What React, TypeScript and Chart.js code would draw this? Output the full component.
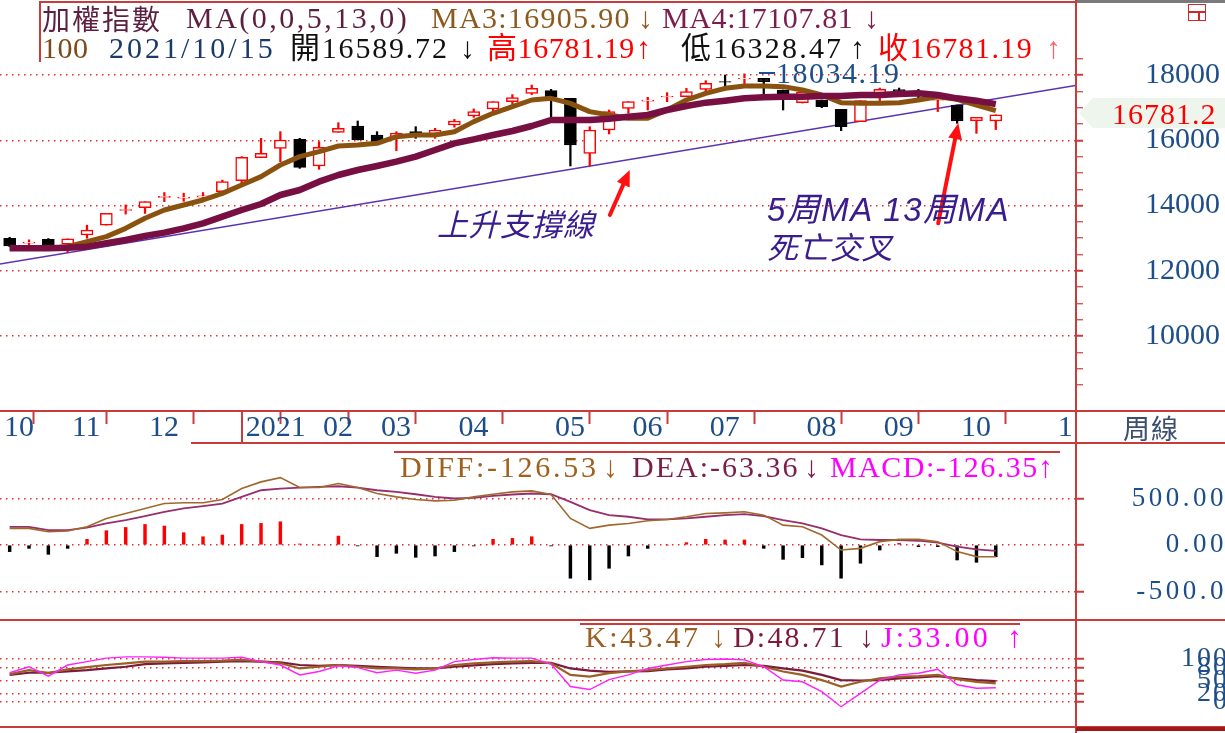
import React, { useEffect, useRef } from 'react';
import { Chart, registerables } from 'chart.js';

Chart.register(...registerables);

// ---------------- data ----------------
const weekDates = ['2020/10/16','2020/10/23','2020/10/30','2020/11/06','2020/11/13','2020/11/20','2020/11/27','2020/12/04','2020/12/11','2020/12/18','2020/12/25','2020/12/31','2021/01/08','2021/01/15','2021/01/22','2021/01/29','2021/02/05','2021/02/19','2021/02/26','2021/03/05','2021/03/12','2021/03/19','2021/03/26','2021/04/01','2021/04/09','2021/04/16','2021/04/23','2021/04/30','2021/05/07','2021/05/14','2021/05/21','2021/05/28','2021/06/04','2021/06/11','2021/06/18','2021/06/25','2021/07/02','2021/07/09','2021/07/16','2021/07/23','2021/07/30','2021/08/06','2021/08/13','2021/08/20','2021/08/27','2021/09/03','2021/09/10','2021/09/17','2021/09/24','2021/10/01','2021/10/08','2021/10/15'];

const openP = [12997,12850,12966,12820,13100,13400,13850,13936,14250,14230,14260,14427,14760,15468,15754,16030,15213,16244,16438,16162,16100,16264,16193,16468,16744,16960,17183,17438,17520,17285,15600,16315,16979,17200,17330,17336,17561,17800,17880,17897,17540,17150,17234,16948,16570,17300,17550,17480,17230,17081,16600,16589.72];
const highP = [13030,12950,12990,12980,13400,13760,14020,14120,14400,14380,14400,14780,15500,16060,16264,16060,15958,16540,16591,16264,16264,16417,16366,16640,16960,17183,17400,17693,17560,17285,16417,16928,17183,17316,17459,17591,17826,17999,18034.19,17897,17540,17480,17234,16948,17214,17600,17600,17560,17300,17081,16703,16781.19];
const lowP = [12740,12740,12620,12560,13000,13400,13740,13760,14120,14130,14150,14427,14700,15468,15345,15140,15111,16244,16009,15900,15682,16060,16060,16400,16700,16900,17100,17400,16700,15213,15213,16193,16826,16928,17183,17336,17459,17540,17693,17387,16928,17140,17000,16295,16570,17200,17440,17260,16880,16520,16213,16328.47];
const closeP = [12762,12880,12762,12980,13250,13760,13880,14120,14280,14260,14300,14733,15478,15600,16009,15172,15784,16366,16009,15958,16220,16162,16315,16591,16877,17183,17306,17591,17336,15856,16315,16877,17183,17230,17350,17489,17744,17780,17900,17795,17336,17480,17030,16417,17214,17560,17520,17400,17260,16591,16703,16781.19];

const ma5 = [12691,12691,12691,12742,12895,13048,13303,13610,13865,14018,14171,14375,14631,14886,15243,15499,15652,15825,15856,15907,16111,16162,16162,16264,16571,16826,17030,17234,17285,17132,16877,16775,16673,16673,16928,17234,17438,17592,17663,17663,17643,17540,17387,17153,17132,17132,17153,17234,17336,17255,17081,16905.9];
const ma13 = [12691,12691,12691,12711,12742,12844,12946,13069,13171,13303,13457,13661,13865,14049,14324,14477,14733,14937,15090,15213,15345,15499,15703,15907,16029,16162,16285,16438,16621,16621,16621,16660,16724,16775,16928,17050,17153,17214,17285,17316,17336,17336,17357,17357,17387,17387,17418,17438,17387,17285,17214,17107.81];

const trendX = [-0.5, 55.2];
const trendY = [12211, 17690];

const arrowTailX = [31.04, 48.02];
const arrowTailY = [13712, 13458];
const arrowTipX = [32.07, 49.06];
const arrowTipY = [15090, 16521];

const monthTickPos = [-0.5, 3, 7, 12, 16, 19, 23, 28, 32, 36, 41, 45, 49, 54];
const monthTickLabels = ['10', '11', '12', '2021', '02', '03', '04', '05', '06', '07', '08', '09', '10', '1'];
const yearTickPos = [12];

const priceTickValues = [8500,9000,9500,10000,10500,11000,11500,12000,12500,13000,13500,14000,14500,15000,15500,16000,16500,17000,17500,18000,18500];
const priceLabelValues = [10000, 12000, 14000, 16000, 18000];

const diffVals = [179,179,143,150,196,286,339,393,446,454,454,489,607,679,725,618,618,661,618,554,518,489,475,482,518,546,571,582,543,286,179,214,232,261,275,304,339,346,357,321,214,196,107,-54,-36,36,61,61,36,-71,-125,-126.53];
const deaVals = [196,196,161,161,186,232,268,311,357,393,418,446,518,589,607,618,625,632,618,589,571,546,518,500,507,528,543,554,546,464,375,321,304,275,275,286,304,321,332,311,268,232,179,107,61,54,54,46,25,-18,-46,-63.36];
const macdVals = [-71,-36,-100,-36,61,154,189,221,204,132,89,107,221,232,250,11,0,96,-10,-125,-89,-132,-118,-71,-10,61,71,89,-10,-357,-375,-250,-118,-36,0,25,61,54,54,-36,-154,-136,-214,-357,-196,-54,18,-18,-18,-161,-186,-126.35];
const macdTickValues = [-500, 0, 500];
const macdTickLabels = ['-500.0', '0.00', '500.00'];

const kVals = [65,74,67,76,81,86,90,94,94,95,95,96,98,94,90,78,82,86,82,78,78,76,78,86,90,92,94,95,90,63,59,67,71,74,78,82,86,88,91,82,71,63,51,36,47,55,59,60,63,53,47,43.47];
const dVals = [63,68,68,71,74,78,82,88,90,91,92,94,95,94,92,86,84,86,84,82,80,78,78,82,85,88,90,91,91,78,73,70,71,72,76,78,82,84,86,84,78,73,63,51,50,51,55,57,60,55,51,48.71];
const jVals = [68,82,60,86,94,102,105,105,104,102,102,102,104,94,86,63,71,84,80,68,74,67,74,94,99,103,102,102,88,36,29,52,63,78,86,94,99,100,98,82,51,47,24,-11,20,51,63,67,76,40,32,33];
const kdjTickValues = [0, 20, 50, 80, 100];

// ---------------- styles ----------------
const RED_LINE = '#c83c3c';
const GRID_RED = '#dd3333';
const AXIS_BLUE = '#1d4e89';
const MA5_COLOR = '#8a520f';
const MA13_COLOR = '#780f42';
const DIFF_COLOR = '#a0682c';
const DEA_COLOR = '#962f6c';
const K_COLOR = '#9a5f24';
const D_COLOR = '#7a1a3c';
const J_COLOR = '#ff22ff';
const SERIF = "'Liberation Serif', 'Noto Sans CJK TC', serif";
const CJK = "'Noto Sans CJK TC', sans-serif";
const XMIN = -0.5;
const XMAX = 55.2;

Chart.defaults.font.family = SERIF;

const idx = weekDates.map((_, i) => i);
const pts = (arr: number[]) => idx.map((i) => ({ x: i, y: arr[i] }));

const hiddenX = {
  type: 'linear',
  min: XMIN,
  max: XMAX,
  display: false,
  offset: false,
  grid: { display: false },
};

const spacingPlugin = (sp: string) => ({
  id: 'spacing',
  beforeUpdate(chart: any) { (chart.ctx as any).letterSpacing = sp; },
  beforeDraw(chart: any) { (chart.ctx as any).letterSpacing = sp; },
});

const arrowPlugin = {
  id: 'arrows',
  afterDatasetsDraw(chart: any) {
    const { ctx, scales } = chart;
    const xs = scales.x;
    const ys = scales.y;
    ctx.save();
    ctx.strokeStyle = '#ff1010';
    ctx.fillStyle = '#ff1010';
    ctx.lineWidth = 4;
    ctx.lineCap = 'round';
    for (let k = 0; k < arrowTailX.length; k++) {
      const x1 = xs.getPixelForValue(arrowTailX[k]);
      const y1 = ys.getPixelForValue(arrowTailY[k]);
      const x2 = xs.getPixelForValue(arrowTipX[k]);
      const y2 = ys.getPixelForValue(arrowTipY[k]);
      const ang = Math.atan2(y2 - y1, x2 - x1);
      const hl = 16;
      const hw = 7;
      const bx = x2 - hl * Math.cos(ang);
      const by = y2 - hl * Math.sin(ang);
      ctx.beginPath();
      ctx.moveTo(x1, y1);
      ctx.lineTo(bx, by);
      ctx.stroke();
      ctx.beginPath();
      ctx.moveTo(x2, y2);
      ctx.lineTo(bx + hw * Math.sin(ang), by - hw * Math.cos(ang));
      ctx.lineTo(bx - hw * Math.sin(ang), by + hw * Math.cos(ang));
      ctx.closePath();
      ctx.fill();
    }
    ctx.restore();
  },
  afterDraw(chart: any) {
    const xs = chart.scales.x;
    const { ctx } = chart;
    ctx.save();
    ctx.strokeStyle = RED_LINE;
    ctx.lineWidth = 2;
    yearTickPos.forEach((v) => {
      const px = Math.round(xs.getPixelForValue(v));
      ctx.beginPath();
      ctx.moveTo(px, xs.top);
      ctx.lineTo(px, xs.bottom);
      ctx.stroke();
    });
    ctx.restore();
  },
};

function buildMain(): any {
  const up = idx.map((i) => closeP[i] >= openP[i]);
  return {
    type: 'bar',
    data: {
      datasets: [
        { type: 'line', label: 'MA13', data: pts(ma13), borderColor: MA13_COLOR, borderWidth: 6.5, pointRadius: 0, tension: 0, order: 0, borderJoinStyle: 'round' },
        { type: 'line', label: 'MA5', data: pts(ma5), borderColor: MA5_COLOR, borderWidth: 5, pointRadius: 0, tension: 0, order: 1, borderJoinStyle: 'round' },
        {
          type: 'bar', label: 'body',
          data: idx.map((i) => ({ x: i, y: [openP[i], closeP[i]] })),
          backgroundColor: idx.map((i) => (up[i] ? '#ffffff' : '#000000')),
          borderColor: idx.map((i) => (up[i] ? '#ff0000' : '#000000')),
          borderWidth: 1.5, borderSkipped: false, barThickness: 12, grouped: false, order: 2,
        },
        {
          type: 'bar', label: 'wick',
          data: idx.map((i) => ({ x: i, y: [lowP[i], highP[i]] })),
          backgroundColor: idx.map((i) => (up[i] ? '#ff0000' : '#000000')),
          borderWidth: 0, barThickness: 1.6, grouped: false, order: 3,
        },
        { type: 'line', label: 'trend', data: trendX.map((x, k) => ({ x, y: trendY[k] })), borderColor: '#5a34b4', borderWidth: 1.5, pointRadius: 0, order: 4 },
      ],
    },
    options: {
      responsive: false,
      animation: false,
      events: [],
      layout: { padding: 0 },
      plugins: { legend: { display: false }, tooltip: { enabled: false } },
      scales: {
        x: {
          type: 'linear', min: XMIN, max: XMAX, position: 'bottom', offset: false,
          afterBuildTicks: (s: any) => { s.ticks = monthTickPos.map((v) => ({ value: v })); },
          afterFit: (s: any) => { s.height = 32; s.paddingLeft = 0; s.paddingRight = 0; },
          ticks: {
            autoSkip: false, maxRotation: 0, minRotation: 0, align: 'start', labelOffset: 4, padding: -14,
            color: AXIS_BLUE, font: { size: 30, family: SERIF },
            callback: (_v: any, i: number) => monthTickLabels[i],
          },
          grid: { display: true, drawOnChartArea: false, drawTicks: true, tickLength: 13, tickColor: RED_LINE, tickWidth: 2, tickBorderDash: [] },
          border: { display: false },
        },
        y: {
          type: 'linear', position: 'right', min: 7708, max: 19072,
          afterBuildTicks: (s: any) => { s.ticks = priceTickValues.map((v) => ({ value: v })); },
          afterFit: (s: any) => { s.width = 148; s.paddingTop = 0; s.paddingBottom = 0; },
          ticks: {
            autoSkip: false, crossAlign: 'near', padding: 62, color: AXIS_BLUE, font: { size: 30, family: SERIF },
            callback: (v: any) => (priceLabelValues.includes(v) ? String(v) : ''),
          },
          grid: {
            color: (c: any) => (c.tick && priceLabelValues.includes(c.tick.value) ? GRID_RED : 'rgba(0,0,0,0)'),
            lineWidth: 1.5, drawTicks: true, tickLength: 6, tickColor: RED_LINE,
            tickWidth: (c: any) => (c.tick && c.tick.value % 2000 === 0 ? 2 : 1.2), tickBorderDash: [],
          },
          border: { display: false, dash: [1.5, 4.5] },
        },
      },
    },
    plugins: [arrowPlugin],
  };
}

function buildMacd(): any {
  return {
    type: 'bar',
    data: {
      datasets: [
        { type: 'line', label: 'DIFF', data: pts(diffVals), borderColor: DIFF_COLOR, borderWidth: 1.6, pointRadius: 0, tension: 0, order: 0 },
        { type: 'line', label: 'DEA', data: pts(deaVals), borderColor: DEA_COLOR, borderWidth: 1.8, pointRadius: 0, tension: 0, order: 1 },
        {
          type: 'bar', label: 'MACD', data: pts(macdVals),
          backgroundColor: idx.map((i) => (macdVals[i] >= 0 ? '#ff0000' : '#000000')),
          barThickness: 2.8, grouped: false, order: 2,
        },
      ],
    },
    options: {
      responsive: false, animation: false, events: [], layout: { padding: 0 },
      plugins: { legend: { display: false }, tooltip: { enabled: false } },
      scales: {
        x: hiddenX,
        y: {
          type: 'linear', position: 'right', min: -699, max: 968,
          afterBuildTicks: (s: any) => { s.ticks = macdTickValues.map((v) => ({ value: v })); },
          afterFit: (s: any) => { s.width = 150; s.paddingTop = 0; s.paddingBottom = 0; },
          ticks: {
            autoSkip: false, crossAlign: 'far', padding: 4, color: AXIS_BLUE, font: { size: 27, family: SERIF },
            callback: (_v: any, i: number) => macdTickLabels[i],
          },
          grid: { color: GRID_RED, lineWidth: 1.5, drawTicks: true, tickLength: 7, tickColor: RED_LINE, tickWidth: 2, tickBorderDash: [] },
          border: { display: false, dash: [1.5, 4.5] },
        },
      },
    },
    plugins: [spacingPlugin('3.5px')],
  };
}

function buildKdj(): any {
  return {
    type: 'line',
    data: {
      datasets: [
        { label: 'J', data: pts(jVals), borderColor: J_COLOR, borderWidth: 1.4, pointRadius: 0, tension: 0, order: 0 },
        { label: 'K', data: pts(kVals), borderColor: K_COLOR, borderWidth: 2.2, pointRadius: 0, tension: 0, order: 1 },
        { label: 'D', data: pts(dVals), borderColor: D_COLOR, borderWidth: 2.2, pointRadius: 0, tension: 0, order: 2 },
      ],
    },
    options: {
      responsive: false, animation: false, events: [], layout: { padding: 0 },
      plugins: { legend: { display: false }, tooltip: { enabled: false } },
      scales: {
        x: hiddenX,
        y: {
          type: 'linear', position: 'right', min: -53.5, max: 172.1,
          afterBuildTicks: (s: any) => { s.ticks = kdjTickValues.map((v) => ({ value: v })); },
          afterFit: (s: any) => { s.width = 152; s.paddingTop = 0; s.paddingBottom = 0; },
          ticks: {
            autoSkip: false, crossAlign: 'far', padding: 4, color: AXIS_BLUE, font: { size: 28, family: SERIF },
            callback: (v: any) => String(v),
          },
          grid: { color: GRID_RED, lineWidth: 1.5, drawTicks: true, tickLength: 7, tickColor: RED_LINE, tickWidth: 2, tickBorderDash: [] },
          border: { display: false, dash: [1.5, 4.5] },
        },
      },
    },
    plugins: [spacingPlugin('2px')],
  };
}

function ChartBox({ left, top, width, height, build }: { left: number; top: number; width: number; height: number; build: () => any }) {
  const ref = useRef<HTMLCanvasElement>(null);
  useEffect(() => {
    const chart = new Chart(ref.current as HTMLCanvasElement, build());
    return () => chart.destroy();
  }, []);
  return <canvas ref={ref} width={width} height={height} style={{ position: 'absolute', left, top, width, height }} />;
}

function T({ x, y, c, s = 30, ls = 1, f = SERIF, italic = false, children }: any) {
  return (
    <div style={{ position: 'absolute', left: x, top: y, transform: 'translateY(-50%)', color: c, fontSize: s, fontFamily: f, letterSpacing: ls, lineHeight: 1, whiteSpace: 'nowrap', fontStyle: italic ? 'italic' : 'normal', zIndex: 5 }}>
      {children}
    </div>
  );
}

function L({ x, y, w, h, c = RED_LINE }: any) {
  return <div style={{ position: 'absolute', left: x, top: y, width: w, height: h, background: c, zIndex: 4 }} />;
}

export default function App() {
  useEffect(() => {
    document.body.style.margin = '0';
  }, []);
  return (
    <div style={{ position: 'fixed', left: 0, top: 0, width: 1225, height: 733, overflow: 'hidden', background: '#ffffff' }}>
      <ChartBox left={0} top={40} width={1225} height={403} build={buildMain} />
      <ChartBox left={0} top={455} width={1227} height={155} build={buildMacd} />
      <ChartBox left={0} top={628} width={1229} height={97} build={buildKdj} />

      {/* frame lines */}
      <L x={39} y={1} w={1037} h={2} />
      <L x={1076} y={0} w={149} h={3} c="#7a7a7a" />
      <L x={39} y={1} w={2} h={61} />
      <L x={1075} y={0} w={2} h={733} />
      <L x={0} y={410} w={1225} h={2} />
      <L x={191} y={442} w={1034} h={2} />
      <L x={394} y={451} w={666} h={2} />
      <L x={0} y={619} w={1225} h={2} />
      <L x={580} y={623} w={440} h={2} />
      <L x={0} y={726} w={1225} h={2} />
      <L x={1076} y={727} w={149} h={4} c="#a01818" />

      {/* top-right icon */}
      <div style={{ position: 'absolute', left: 1188, top: 4, width: 16, height: 15, border: '1.5px solid #d02828', zIndex: 5 }} />
      <L x={1188} y={11} w={18} h={1.5} c="#d02828" />
      <L x={1198} y={11} w={1.5} h={9} c="#d02828" />

      {/* header line 1 */}
      <T x={42} y={18} c="#5c1f3f" s={28} ls={2} f={CJK}>加權指數</T>
      <T x={186} y={18} c="#5c1f3f" ls={2.5}>MA(0,0,5,13,0)</T>
      <T x={431} y={18} c="#8c5a1e" ls={1.3}>MA3:16905.90</T>
      <T x={638} y={18} c="#8c5a1e" ls={0}>↓</T>
      <T x={662} y={18} c="#7b1e4e" ls={0.6}>MA4:17107.81</T>
      <T x={864} y={18} c="#7b1e4e" ls={0}>↓</T>

      {/* header line 2 */}
      <T x={42} y={48} c="#7a4a1a" ls={0.5}>100</T>
      <T x={109} y={48} c="#1a3a6a" ls={3}>2021/10/15</T>
      <T x={290} y={48} c="#111111" ls={1.8}>開16589.72</T>
      <T x={460} y={48} c="#111111" ls={0}>↓</T>
      <T x={487} y={48} c="#ff0000" ls={0.6}>高16781.19</T>
      <T x={636} y={48} c="#ff0000" ls={0}>↑</T>
      <T x={681} y={48} c="#111111" ls={2.2}>低16328.47</T>
      <T x={850} y={48} c="#111111" ls={0}>↑</T>
      <T x={878} y={48} c="#ff0000" ls={1.4}>收16781.19</T>
      <T x={1046} y={48} c="#ff6060" ls={0}>↑</T>

      {/* max label */}
      <L x={759} y={72} w={16} h={2} c={AXIS_BLUE} />
      <T x={776} y={73} c={AXIS_BLUE} ls={1.5}>18034.19</T>

      {/* last price box */}
      <div style={{ position: 'absolute', left: 1079, top: 98, width: 146, height: 30, background: '#edf5ec', clipPath: 'polygon(0 50%, 14px 0, 100% 0, 100% 100%, 14px 100%)', zIndex: 3 }} />
      <T x={1112} y={114} c="#ff0000" ls={1}>16781.2</T>

      {/* annotations */}
      <T x={437} y={222} c="#3a1d8c" s={31} ls={0.5} f={CJK} italic>上升支撐線</T>
      <T x={767} y={209} c="#3a1d8c" s={33} ls={1.5} f={"'Liberation Sans', 'Noto Sans CJK TC', sans-serif"} italic>5周MA 13周MA</T>
      <T x={767} y={245} c="#3a1d8c" s={31} ls={0.5} f={CJK} italic>死亡交叉</T>

      {/* period label */}
      <T x={1123} y={427} c="#3d4f6e" s={27} ls={1} f={CJK}>周線</T>

      {/* MACD header */}
      <T x={400} y={467} c="#a0601e" ls={2.75}>DIFF:-126.53</T>
      <T x={603} y={467} c="#a0601e" ls={0}>↓</T>
      <T x={632} y={467} c="#7a1e4a" ls={2}>DEA:-63.36</T>
      <T x={804} y={467} c="#7a1e4a" ls={0}>↓</T>
      <T x={830} y={467} c="#ff00ff" ls={1.5}>MACD:-126.35</T>
      <T x={1038} y={467} c="#ff00ff" ls={0}>↑</T>

      {/* KDJ header */}
      <T x={585} y={637} c="#9a5f24" ls={2.6}>K:43.47</T>
      <T x={711} y={637} c="#9a5f24" ls={0}>↓</T>
      <T x={733} y={637} c="#7a1a3c" ls={2.2}>D:48.71</T>
      <T x={859} y={637} c="#7a1a3c" ls={0}>↓</T>
      <T x={881} y={637} c="#ff00ff" ls={3.2}>J:33.00</T>
      <T x={1007} y={637} c="#ff00ff" ls={0}>↑</T>
    </div>
  );
}
